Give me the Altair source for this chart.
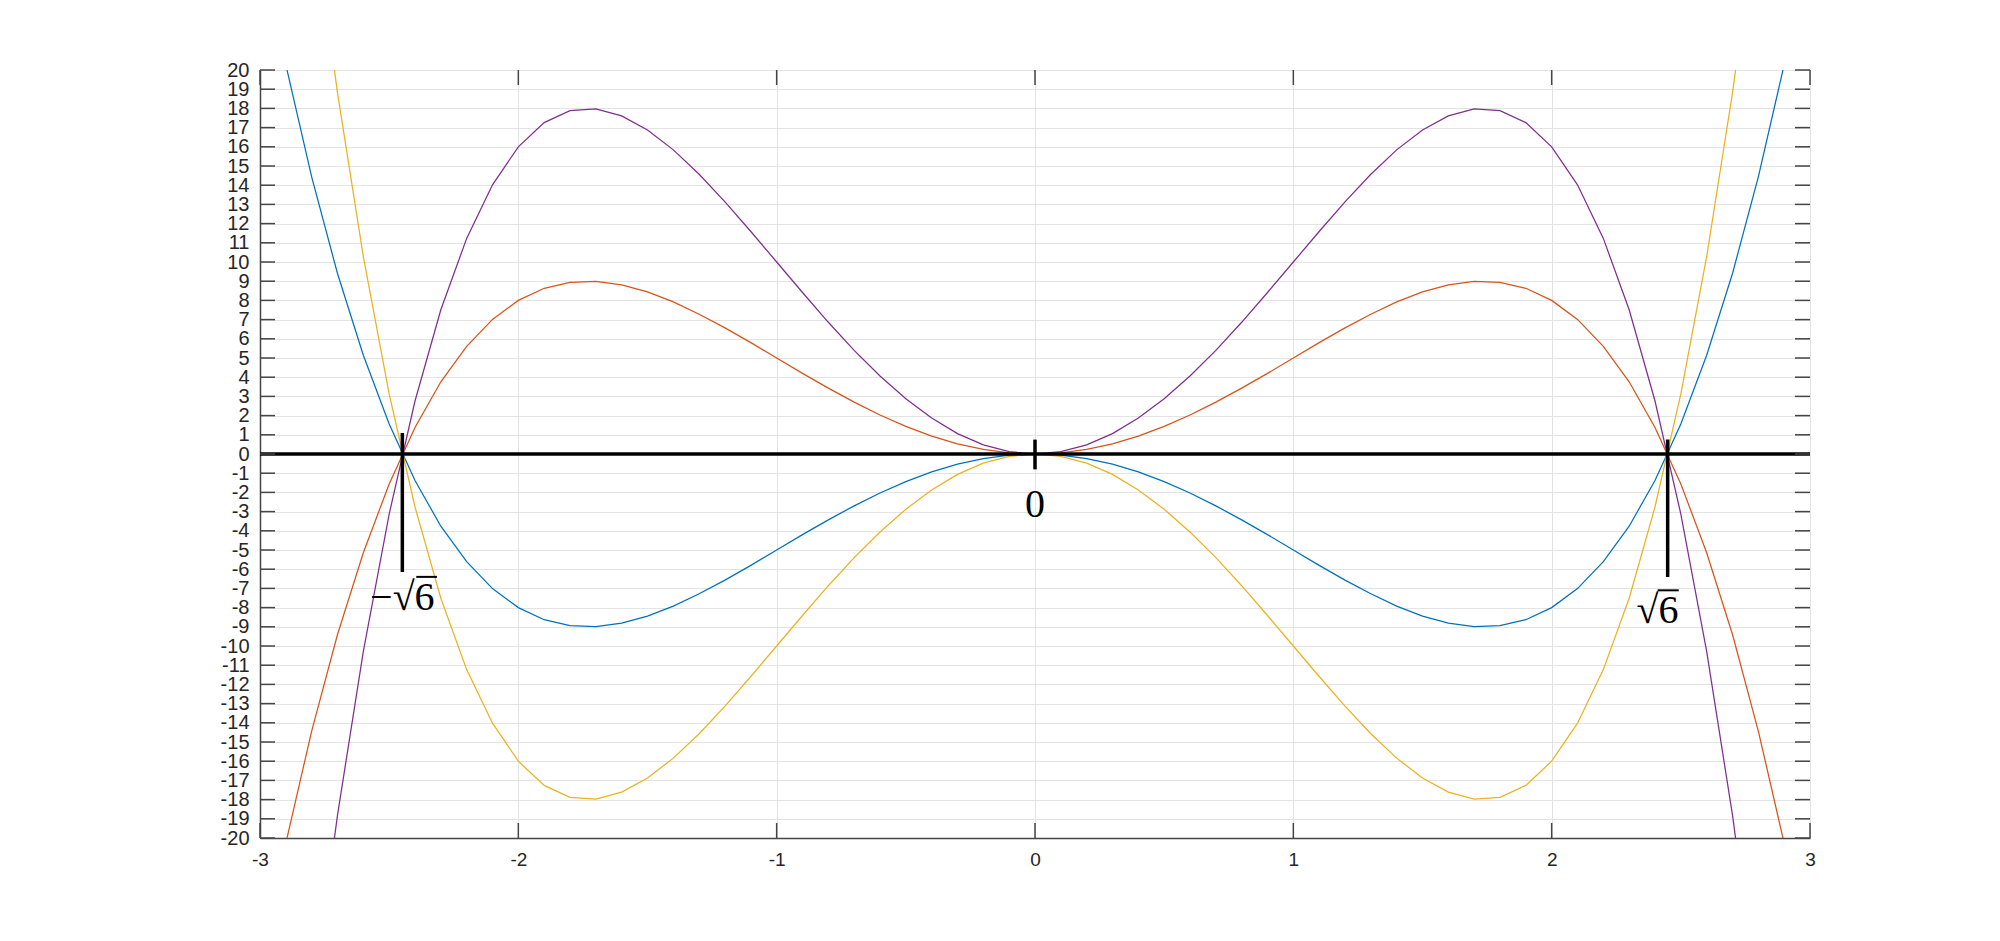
import altair as alt
import pandas as pd

# sample points along x
xs = [-3.0, -2.9, -2.8, -2.7, -2.6, -2.5, -2.4, -2.3, -2.2, -2.1,
      -2.0, -1.9, -1.8, -1.7, -1.6, -1.5, -1.4, -1.3, -1.2, -1.1,
      -1.0, -0.9, -0.8, -0.7, -0.6, -0.5, -0.4, -0.3, -0.2, -0.1,
      0.0, 0.1, 0.2, 0.3, 0.4, 0.5, 0.6, 0.7, 0.8, 0.9,
      1.0, 1.1, 1.2, 1.3, 1.4, 1.5, 1.6, 1.7, 1.8, 1.9,
      2.0, 2.1, 2.2, 2.3, 2.4, 2.5, 2.6, 2.7, 2.8, 2.9, 3.0]

blue = [27.0, 20.27, 14.43, 9.40, 5.14, 1.56, -1.38, -3.76, -5.61, -7.01,
        -8.0, -8.63, -8.94, -8.99, -8.81, -8.44, -7.92, -7.28, -6.57, -5.80,
        -5.0, -4.20, -3.43, -2.70, -2.03, -1.44, -0.93, -0.53, -0.24, -0.06,
        0.0, -0.06, -0.24, -0.53, -0.93, -1.44, -2.03, -2.70, -3.43, -4.20,
        -5.0, -5.80, -6.57, -7.28, -7.92, -8.44, -8.81, -8.99, -8.94, -8.63,
        -8.0, -7.01, -5.61, -3.76, -1.38, 1.56, 5.14, 9.40, 14.43, 20.27, 27.0]

orange = [-27.0, -20.27, -14.43, -9.40, -5.14, -1.56, 1.38, 3.76, 5.61, 7.01,
          8.0, 8.63, 8.94, 8.99, 8.81, 8.44, 7.92, 7.28, 6.57, 5.80,
          5.0, 4.20, 3.43, 2.70, 2.03, 1.44, 0.93, 0.53, 0.24, 0.06,
          0.0, 0.06, 0.24, 0.53, 0.93, 1.44, 2.03, 2.70, 3.43, 4.20,
          5.0, 5.80, 6.57, 7.28, 7.92, 8.44, 8.81, 8.99, 8.94, 8.63,
          8.0, 7.01, 5.61, 3.76, 1.38, -1.56, -5.14, -9.40, -14.43, -20.27, -27.0]

yellow = [54.0, 40.54, 28.85, 18.81, 10.28, 3.13, -2.76, -7.51, -11.23, -14.02,
          -16.0, -17.26, -17.88, -17.98, -17.61, -16.88, -15.84, -14.57, -13.13, -11.59,
          -10.0, -8.41, -6.86, -5.40, -4.06, -2.88, -1.87, -1.06, -0.48, -0.12,
          0.0, -0.12, -0.48, -1.06, -1.87, -2.88, -4.06, -5.40, -6.86, -8.41,
          -10.0, -11.59, -13.13, -14.57, -15.84, -16.88, -17.61, -17.98, -17.88, -17.26,
          -16.0, -14.02, -11.23, -7.51, -2.76, 3.13, 10.28, 18.81, 28.85, 40.54, 54.0]

purple = [-54.0, -40.54, -28.85, -18.81, -10.28, -3.13, 2.76, 7.51, 11.23, 14.02,
          16.0, 17.26, 17.88, 17.98, 17.61, 16.88, 15.84, 14.57, 13.13, 11.59,
          10.0, 8.41, 6.86, 5.40, 4.06, 2.88, 1.87, 1.06, 0.48, 0.12,
          0.0, 0.12, 0.48, 1.06, 1.87, 2.88, 4.06, 5.40, 6.86, 8.41,
          10.0, 11.59, 13.13, 14.57, 15.84, 16.88, 17.61, 17.98, 17.88, 17.26,
          16.0, 14.02, 11.23, 7.51, 2.76, -3.13, -10.28, -18.81, -28.85, -40.54, -54.0]

series_names = ["blue", "orange", "yellow", "purple"]
series_colors = ["#0072BD", "#D95319", "#EDB120", "#7E2F8E"]

x_ticks = [-3, -2, -1, 0, 1, 2, 3]
y_ticks = list(range(-20, 21))

# marker lines and labels at the roots
marker_x = [-2.449, 0.0, 2.449]
marker_top = [1.1, 0.75, 0.75]
marker_bottom = [-6.15, -0.8, -6.4]
marker_labels = ["\u2212\u221a6", "0", "\u221a6"]
label_x = [-2.449, 0.0, 2.41]
label_y = [-7.5, -2.65, -8.2]
# bars over the 6 under the radical signs
bar_x0 = [-2.395, 2.41]
bar_x1 = [-2.315, 2.492]
bar_y = [-6.4, -7.1]

W, H = 1550, 768

rows = []
for name, ys in zip(series_names, [blue, orange, yellow, purple]):
    for xv, yv in zip(xs, ys):
        rows.append({"x": xv, "y": yv, "series": name})
curves = pd.DataFrame(rows)

xscale = alt.Scale(domain=[-3, 3], nice=False, zero=False)
yscale = alt.Scale(domain=[-20, 20], nice=False, zero=False)

# same axis objects in every layer so they merge into one
xaxis = alt.Axis(
    values=x_ticks, title=None, grid=True, gridColor="#e3e3e3",
    ticks=False, labelFontSize=19, labelFont="Liberation Sans",
    labelColor="#262626", labelPadding=12, domainColor="#444444",
    domainWidth=1.5, labelExpr="'' + datum.value", labelFlush=False)
yaxis = alt.Axis(
    values=y_ticks, title=None, grid=True, gridColor="#e3e3e3",
    ticks=False, labelFontSize=20, labelFont="Liberation Sans",
    labelColor="#262626", labelPadding=11, domainColor="#444444",
    domainWidth=1.5, labelExpr="'' + datum.value", labelOverlap=False,
    labelFlush=False)


def X(field):
    return alt.X(field, scale=xscale, axis=xaxis)


def Y(field):
    return alt.Y(field, scale=yscale, axis=yaxis)


lines = alt.Chart(curves).mark_line(clip=True, strokeWidth=1.25).encode(
    x=X("x:Q"),
    y=Y("y:Q"),
    color=alt.Color("series:N", scale=alt.Scale(domain=series_names, range=series_colors),
                    legend=None),
    detail="series:N",
)

ytick_df = pd.DataFrame({"v": y_ticks})
xtick_df = pd.DataFrame({"v": x_ticks})

tick_style = dict(color="#444444", strokeWidth=1.5)
left_ticks = alt.Chart(ytick_df).mark_rule(**tick_style).encode(
    y=Y("v:Q"), x=alt.value(0), x2=alt.value(15))
right_ticks = alt.Chart(ytick_df).mark_rule(**tick_style).encode(
    y=Y("v:Q"), x=alt.value(W - 15), x2=alt.value(W))
bottom_ticks = alt.Chart(xtick_df).mark_rule(**tick_style).encode(
    x=X("v:Q"), y=alt.value(H - 15), y2=alt.value(H))
top_ticks = alt.Chart(xtick_df).mark_rule(**tick_style).encode(
    x=X("v:Q"), y=alt.value(0), y2=alt.value(15))

zero_df = pd.DataFrame({"x0": [-3], "x1": [3], "y0": [0]})
zero_line = alt.Chart(zero_df).mark_rule(color="black", strokeWidth=3.5).encode(
    x=X("x0:Q"), x2="x1:Q", y=Y("y0:Q"))

mk_df = pd.DataFrame({"x": marker_x, "top": marker_top, "bottom": marker_bottom})
markers = alt.Chart(mk_df).mark_rule(color="black", strokeWidth=3.5).encode(
    x=X("x:Q"), y=Y("top:Q"), y2="bottom:Q")

lab_df = pd.DataFrame({"x": label_x, "y": label_y, "t": marker_labels})
labels = alt.Chart(lab_df).mark_text(
    font="Liberation Serif", fontSize=40, color="black", align="center", baseline="middle"
).encode(x=X("x:Q"), y=Y("y:Q"), text="t:N")

bar_df = pd.DataFrame({"x0": bar_x0, "x1": bar_x1, "y": bar_y})
bars = alt.Chart(bar_df).mark_rule(color="black", strokeWidth=2).encode(
    x=X("x0:Q"), x2="x1:Q", y=Y("y:Q"))

chart = alt.layer(
    lines, zero_line, markers, labels, bars,
    left_ticks, right_ticks, bottom_ticks, top_ticks,
).properties(
    width=W, height=H,
    autosize=alt.AutoSizeParams(type="none"),
    padding={"left": 252, "top": 62, "right": 182, "bottom": 95},
).configure_view(
    stroke="#444444", strokeWidth=1.5
).configure(background="white")

chart.save("out.html", embed_options={"renderer": "svg", "actions": False})
